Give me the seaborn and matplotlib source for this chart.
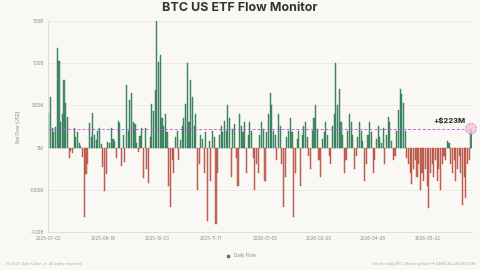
import pandas as pd
import matplotlib.pyplot as plt
import seaborn as sns
from matplotlib.lines import Line2D
from matplotlib.ticker import FuncFormatter

# ============================
# PALETTE
# ============================
BG = "#f9f8f5"
GREEN = "#3f9c70"
GREEN_EDGE = "#2a7552"
RED = "#d9604e"
RED_EDGE = "#b04536"
PURPLE = "#b45cc8"
GRID = "#e6e4df"
MUTED = "#8a8a8a"

# ============================
# DATA (daily net flows, $M)
# ============================
flows = [
    410, 600, 230, 180, 240, 1180, 1030, 300, 400, 800,
    530, 360, -120, -40, -70, 230, 130, 180, 60, 20,
    -110, -820, -310, -200, 290, 120, 410, 150, 90, 200,
    230, 40, -230, -520, -310, 70, 50, 230, 100, 80,
    -120, 320, 290, -220, 150, -170, 740, 200, 560, 650,
    300, 280, 60, -50, 140, 230, -360, 230, -250, -420,
    120, 520, 430, 680, 1550, 1020, 1100, 350, 250, 400,
    180, -450, -700, -150, -300, 120, 200, -150, 90, 250,
    350, 520, 1000, 300, 800, 600, 250, 400, -500, -200,
    150, 100, -300, 180, -870, 80, -400, 200, 120, -910,
    -300, 150, 250, 180, 320, 200, 500, 350, -350, 220,
    280, -120, -450, 400, 250, 180, 300, -300, 150, 300,
    200, -120, -500, -200, -300, 150, 300, 220, -400, 180,
    400, 650, 500, 200, 150, -150, 400, 250, -200, -710,
    -350, 120, 200, 350, 180, -820, -300, 100, 200, -450,
    150, 250, 300, 120, -100, -250, 200, 350, 500, 220,
    -150, -350, 100, 180, 300, 150, -100, -200, 250, 400,
    1000, 500, 700, 300, 150, -300, -150, 200, 400, 300,
    150, -250, -100, 120, 300, 200, 80, -400, -200, 150,
    300, 180, -300, -150, 100, 250, 120, 60, 230, -200,
    150, 360, 300, 80, -150, -100, 200, 450, 700, 630,
    530, 200, -120, -200, -300, -430, -250, -150, -350, -200,
    -500, -300, -400, -250, -450, -720, -300, -200, -350, -150,
    -400, -250, -500, -200, -100, -150, 80, 60, -200, -300,
    -150, -400, -250, -100, -300, -680, -350, -600, -200, -150,
    223,
]
tick_labels = ["2025-07-02", "2025-08-18", "2025-10-03", "2025-11-17",
               "2026-01-05", "2026-02-20", "2026-04-08", "2026-05-22"]
tick_step = 32
y_ticks = [-1000, -500, 0, 500, 1000, 1500]

df = pd.DataFrame({"day": range(len(flows)), "flow": flows})
df["sign"] = ["in" if v >= 0 else "out" for v in df["flow"]]
latest = flows[-1]

# ============================
# PLOT
# ============================
sns.set_theme(style="white")
plt.rcParams["font.family"] = ["Inter", "DejaVu Sans"]

fig = plt.figure(figsize=(4.8, 2.7), dpi=100, facecolor=BG)
ax = fig.add_axes([0.1, 0.141, 0.883, 0.781], facecolor=BG)

sns.barplot(data=df, x="day", y="flow", hue="sign",
            palette={"in": GREEN, "out": RED}, dodge=False,
            legend=False, width=0.65, ax=ax)
for p in ax.patches:
    edge = GREEN_EDGE if p.get_height() >= 0 else RED_EDGE
    p.set_edgecolor(edge)
    p.set_linewidth(0.3)

ax.set_ylim(-1000, 1500)
ax.set_xlim(-0.5, len(flows) - 0.5)
ax.set_yticks(y_ticks)

def fmt(v, _):
    if abs(v) >= 1000:
        return f"{v / 1000:.2f}B"
    return f"{v:.0f}M"

ax.yaxis.set_major_formatter(FuncFormatter(fmt))
ax.set_xticks(range(0, len(tick_labels) * tick_step, tick_step))
ax.set_xticklabels(tick_labels)
ax.tick_params(axis="both", labelsize=3.2, colors=MUTED, length=0, pad=3)
ax.set_xlabel("")
ax.set_ylabel("Net Flow (USD)", fontsize=3.2, color=MUTED, labelpad=6)
ax.grid(axis="y", color=GRID, linewidth=0.5)
ax.set_axisbelow(True)
for side in ["top", "right"]:
    ax.spines[side].set_visible(False)
for side in ["left", "bottom"]:
    ax.spines[side].set_color("#dddad4")
    ax.spines[side].set_linewidth(0.6)

# latest flow marker
ax.axhline(latest, color=PURPLE, linestyle=(0, (3, 2)), linewidth=0.7, alpha=0.9)
ax.scatter([len(flows) - 1], [latest], s=60, color="#f3c9df", alpha=0.8,
           edgecolors="#d06aa4", linewidths=0.6, linestyle="--", zorder=5,
           clip_on=False)
ax.text(len(flows) - 14, latest + 60, f"+${latest}M", fontsize=5.5,
        fontweight="bold", color="#222222", ha="center", va="bottom")

fig.text(0.5, 0.97, "BTC US ETF Flow Monitor", ha="center", va="center",
         fontsize=9, fontweight="bold", color="#333333")

handle = Line2D([], [], marker="s", linestyle="", markersize=2,
                color="#666666", label="Daily Flow")
fig.legend(handles=[handle], loc="center", bbox_to_anchor=(0.5, 0.052),
           frameon=False, fontsize=3.2, labelcolor=MUTED, handletextpad=0.3)

fig.text(0.012, 0.022, "© 2025 Sam Callan Jr. All rights reserved",
         fontsize=2.8, color="#aaaaaa", va="center")
fig.text(0.99, 0.022, "Get the daily BTC Morning Brief → SAMCALLANJR.COM",
         fontsize=2.8, color="#aaaaaa", va="center", ha="right")

fig.savefig("out.png", dpi=100, facecolor=BG)
